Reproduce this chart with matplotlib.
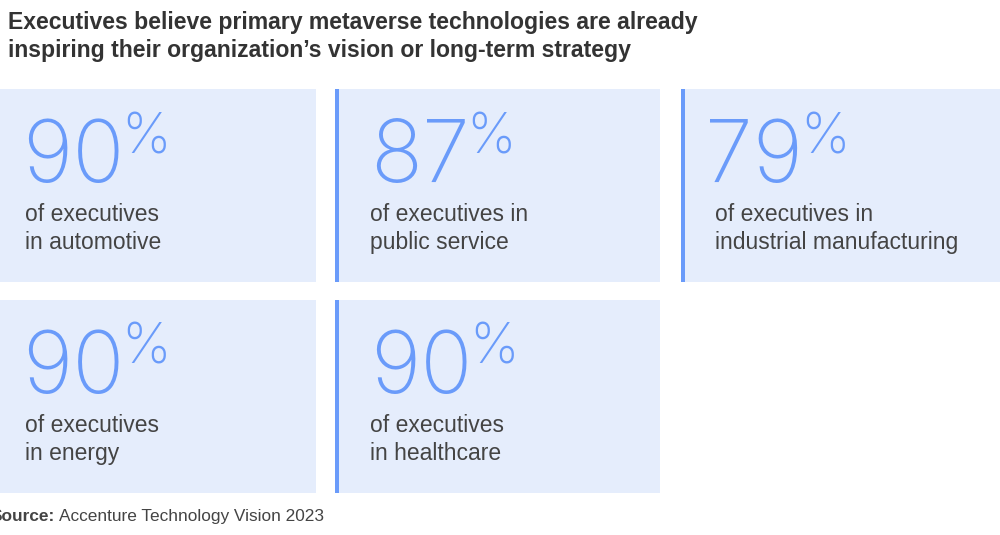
import matplotlib
matplotlib.use("Agg")
import matplotlib.pyplot as plt
from matplotlib.patches import Rectangle

# ---- data ----
values = [90, 87, 79, 90, 90]
line1 = ["of executives", "of executives in", "of executives in", "of executives", "of executives"]
line2 = ["in automotive", "public service", "industrial manufacturing", "in energy", "in healthcare"]
title_lines = ["Executives believe primary metaverse technologies are already",
               "inspiring their organization\u2019s vision or long-term strategy"]
source_label = "Source:"
source_text = "Accenture Technology Vision 2023"

# ---- style ----
W, H = 1000, 535
card_fill = "#E5EDFC"
accent = "#6A9BFA"
text_col = "#444444"
title_col = "#333333"
num_font = ["Inter", "DejaVu Sans"]
txt_font = ["Liberation Sans", "DejaVu Sans"]

fig = plt.figure(figsize=(W / 100, H / 100), dpi=100)
ax = fig.add_axes([0, 0, 1, 1])
ax.set_xlim(0, W)
ax.set_ylim(H, 0)
ax.axis("off")

# card grid (layout)
col_x = [-5, 335, 681]
col_r = [316, 660, 1005]
row_y = [89, 300]
card_h = 193
num_dx = [30, 35, 24]
txt_dx = [30, 35, 34]
border = [False, True, True]

for i, v in enumerate(values):
    r, c = divmod(i, 3)
    x0, x1 = col_x[c], col_r[c]
    y0 = row_y[r]
    ax.add_patch(Rectangle((x0, y0), x1 - x0, card_h, facecolor=card_fill, edgecolor="none"))
    if border[c]:
        ax.add_patch(Rectangle((x0, y0), 4, card_h, facecolor=accent, edgecolor="none"))
    nx = x0 + num_dx[c] if c else 22
    tx = x0 + txt_dx[c] if c else 25
    t = ax.text(nx, y0 + 93, f"{v}", fontsize=62, family=num_font, fontweight="light",
                color=accent, va="baseline", ha="left")
    fig.canvas.draw()
    bb = t.get_window_extent(fig.canvas.get_renderer())
    inv = ax.transData.inverted()
    xr = inv.transform((bb.x1, bb.y0))[0]
    ax.text(xr - 3, y0 + 64, "%", fontsize=40, family=num_font, fontweight="light",
            color=accent, va="baseline", ha="left")
    ax.text(tx, y0 + 132, line1[i], fontsize=16.5, family=txt_font, color=text_col, va="baseline")
    ax.text(tx, y0 + 160, line2[i], fontsize=16.5, family=txt_font, color=text_col, va="baseline")

ax.text(8, 29, title_lines[0], fontsize=16.6, family=txt_font, fontweight="bold", color=title_col, va="baseline")
ax.text(8, 57, title_lines[1], fontsize=16.6, family=txt_font, fontweight="bold", color=title_col, va="baseline")

s = ax.text(-9, 521, source_label, fontsize=12.4, family=txt_font, fontweight="bold", color=text_col, va="baseline")
fig.canvas.draw()
bb = s.get_window_extent(fig.canvas.get_renderer())
xr = ax.transData.inverted().transform((bb.x1, bb.y0))[0]
ax.text(xr + 4, 521, source_text, fontsize=12.4, family=txt_font, color=text_col, va="baseline")

fig.savefig("out.png", dpi=100)
